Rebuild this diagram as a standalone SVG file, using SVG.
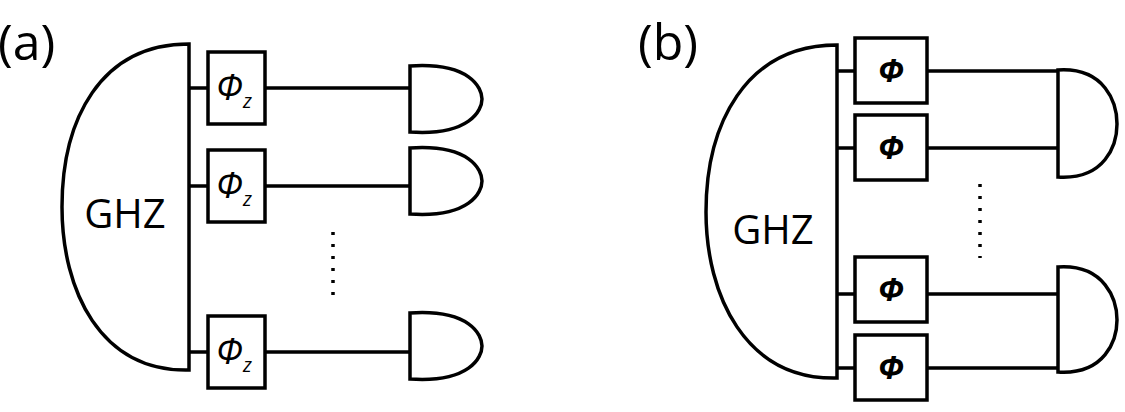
<svg xmlns="http://www.w3.org/2000/svg" width="1125" height="412" viewBox="0 0 1125 412">
<style>
.s{fill:none;stroke:#000;stroke-width:3.5}
.b{fill:#fff;stroke:#000;stroke-width:3.5}
text{font-family:"Open Sans","Liberation Sans",sans-serif;fill:#000}
.ph{font-size:36px;font-style:italic}
.pb{font-size:32px;font-style:italic;font-weight:bold}
.lb{font-size:50px}
.g{font-size:40px}
.dot{stroke:#000;stroke-width:3.5;stroke-dasharray:3 9}
</style>
<rect width="1125" height="412" fill="#fff"/>
<text class="lb" x="-2" y="60">(a)</text>
<text class="lb" x="638" y="60">(b)</text>
<g id="connectors">
<path class="s" d="M189 88H208M265 88H410M189 186H208M265 186H410M189 352H208M265 352H410"/>
<path class="s" d="M837 71H855M927 71H1058M837 148H855M927 148H1058M837 294H855M927 294H1058M837 368H855M927 368H1058"/>
<line class="dot" x1="333" y1="232" x2="333" y2="304"/>
<line class="dot" x1="980" y1="184" x2="980" y2="258"/>
</g>
<g id="ghzA"><path class="s" d="M189 44V370C100 372 62 290 62 207C62 120 100 44 189 44Z"/><text class="g" x="125" y="228" text-anchor="middle">GHZ</text></g>
<g id="boxA1"><rect class="b" x="208" y="52" width="57" height="72"/><text class="ph" x="216" y="100">Φ<tspan font-size="20" dy="8">z</tspan></text></g>
<g id="boxA2"><rect class="b" x="208" y="150" width="57" height="72"/><text class="ph" x="216" y="198">Φ<tspan font-size="20" dy="8">z</tspan></text></g>
<g id="boxA3"><rect class="b" x="208" y="316" width="57" height="72"/><text class="ph" x="216" y="364">Φ<tspan font-size="20" dy="8">z</tspan></text></g>
<g id="detA1"><path class="s" d="M410 66V132C470 136 482 110 482 99C482 88 470 62 410 66Z"/></g>
<g id="detA2"><path class="s" d="M410 148V214C470 218 482 192 482 181C482 170 470 144 410 148Z"/></g>
<g id="detA3"><path class="s" d="M410 313V379C470 383 482 357 482 346C482 335 470 309 410 313Z"/></g>
<g id="ghzB"><path class="s" d="M837 45V378C745 380 706 295 706 212C706 125 745 45 837 45Z"/><text class="g" x="773" y="244" text-anchor="middle">GHZ</text></g>
<g id="boxB1"><rect class="b" x="855" y="38" width="72" height="65"/><text class="pb" x="891" y="82" text-anchor="middle">Φ</text></g>
<g id="boxB2"><rect class="b" x="855" y="115" width="72" height="65"/><text class="pb" x="891" y="159" text-anchor="middle">Φ</text></g>
<g id="boxB3"><rect class="b" x="855" y="257" width="72" height="65"/><text class="pb" x="891" y="301" text-anchor="middle">Φ</text></g>
<g id="boxB4"><rect class="b" x="855" y="335" width="72" height="65"/><text class="pb" x="891" y="379" text-anchor="middle">Φ</text></g>
<g id="detB1"><path class="s" d="M1058 70V177C1105 180 1117 145 1117 124C1117 103 1105 67 1058 70Z"/></g>
<g id="detB2"><path class="s" d="M1058 267V372C1105 375 1117 340 1117 320C1117 300 1105 264 1058 267Z"/></g>
</svg>
